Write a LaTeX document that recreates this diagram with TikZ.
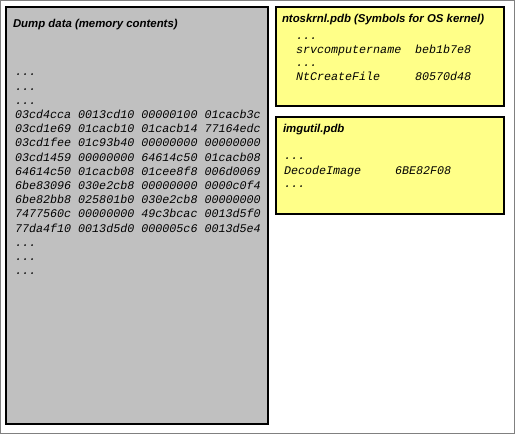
\documentclass[tikz,border=0pt]{standalone}
\usepackage{fontspec}
\setsansfont{Liberation Sans}
\setmonofont{Liberation Mono}
\definecolor{framegray}{RGB}{128,128,128}
\definecolor{dumpgray}{RGB}{192,192,192}
\definecolor{pdbyellow}{RGB}{255,255,136}
\newcommand\hexdots{...}
\begin{document}
\begin{tikzpicture}[x=1pt,y=-1pt,inner sep=0pt,outer sep=0pt,
panel/.style={draw,rectangle,line width=1.3pt,anchor=north west},
heading/.style={font={\sffamily\bfseries\itshape\fontsize{11.4}{13}\selectfont},anchor=base west},
hexcode/.style={font={\ttfamily\itshape\fontsize{11.7}{14}\selectfont},anchor=base west}]
\useasboundingbox (0,0) rectangle (516,435);
\draw[framegray,line width=1pt] (0.5,0.5) rectangle (514.5,433.5);
% memory dump
\node[panel,fill=dumpgray,minimum width=262pt,minimum height=417pt] (dump) at (6,7) {};
\node[heading] (dumptitle) at (13,28) {Dump data (memory contents)};
\foreach \row [count=\i from 0] in {\hexdots,\hexdots,\hexdots,
  03cd4cca 0013cd10 00000100 01cacb3c,
  03cd1e69 01cacb10 01cacb14 77164edc,
  03cd1fee 01c93b40 00000000 00000000,
  03cd1459 00000000 64614c50 01cacb08,
  64614c50 01cacb08 01cee8f8 006d0069,
  6be83096 030e2cb8 00000000 0000c0f4,
  6be82bb8 025801b0 030e2cb8 00000000,
  7477560c 00000000 49c3bcac 0013d5f0,
  77da4f10 0013d5d0 000005c6 0013d5e4,
  \hexdots,\hexdots,\hexdots}
  \node[hexcode] (dump\i) at (15,{76+14.2*\i}) {\row};
% symbols for the kernel
\node[panel,fill=pdbyellow,minimum width=228pt,minimum height=99pt] (kernel) at (276,7) {};
\node[heading] (kerneltitle) at (282,23) {ntoskrnl.pdb (Symbols for OS kernel)};
\node[hexcode] (kdots1) at (296,40) {...};
\node[hexcode] (srvname) at (296,53.5) {srvcomputername};
\node[hexcode] (srvaddr) at (415,53.5) {beb1b7e8};
\node[hexcode] (kdots2) at (296,67) {...};
\node[hexcode] (ntname) at (296,81) {NtCreateFile};
\node[hexcode] (ntaddr) at (415,81) {80570d48};
% symbols for imgutil
\node[panel,fill=pdbyellow,minimum width=228pt,minimum height=97pt] (imgutil) at (276,117) {};
\node[heading] (imgtitle) at (283,133) {imgutil.pdb};
\node[hexcode] (idots1) at (284,160) {...};
\node[hexcode] (decname) at (284,174.5) {DecodeImage};
\node[hexcode] (decaddr) at (395,174.5) {6BE82F08};
\node[hexcode] (idots2) at (284,188) {...};
\end{tikzpicture}
\end{document}
